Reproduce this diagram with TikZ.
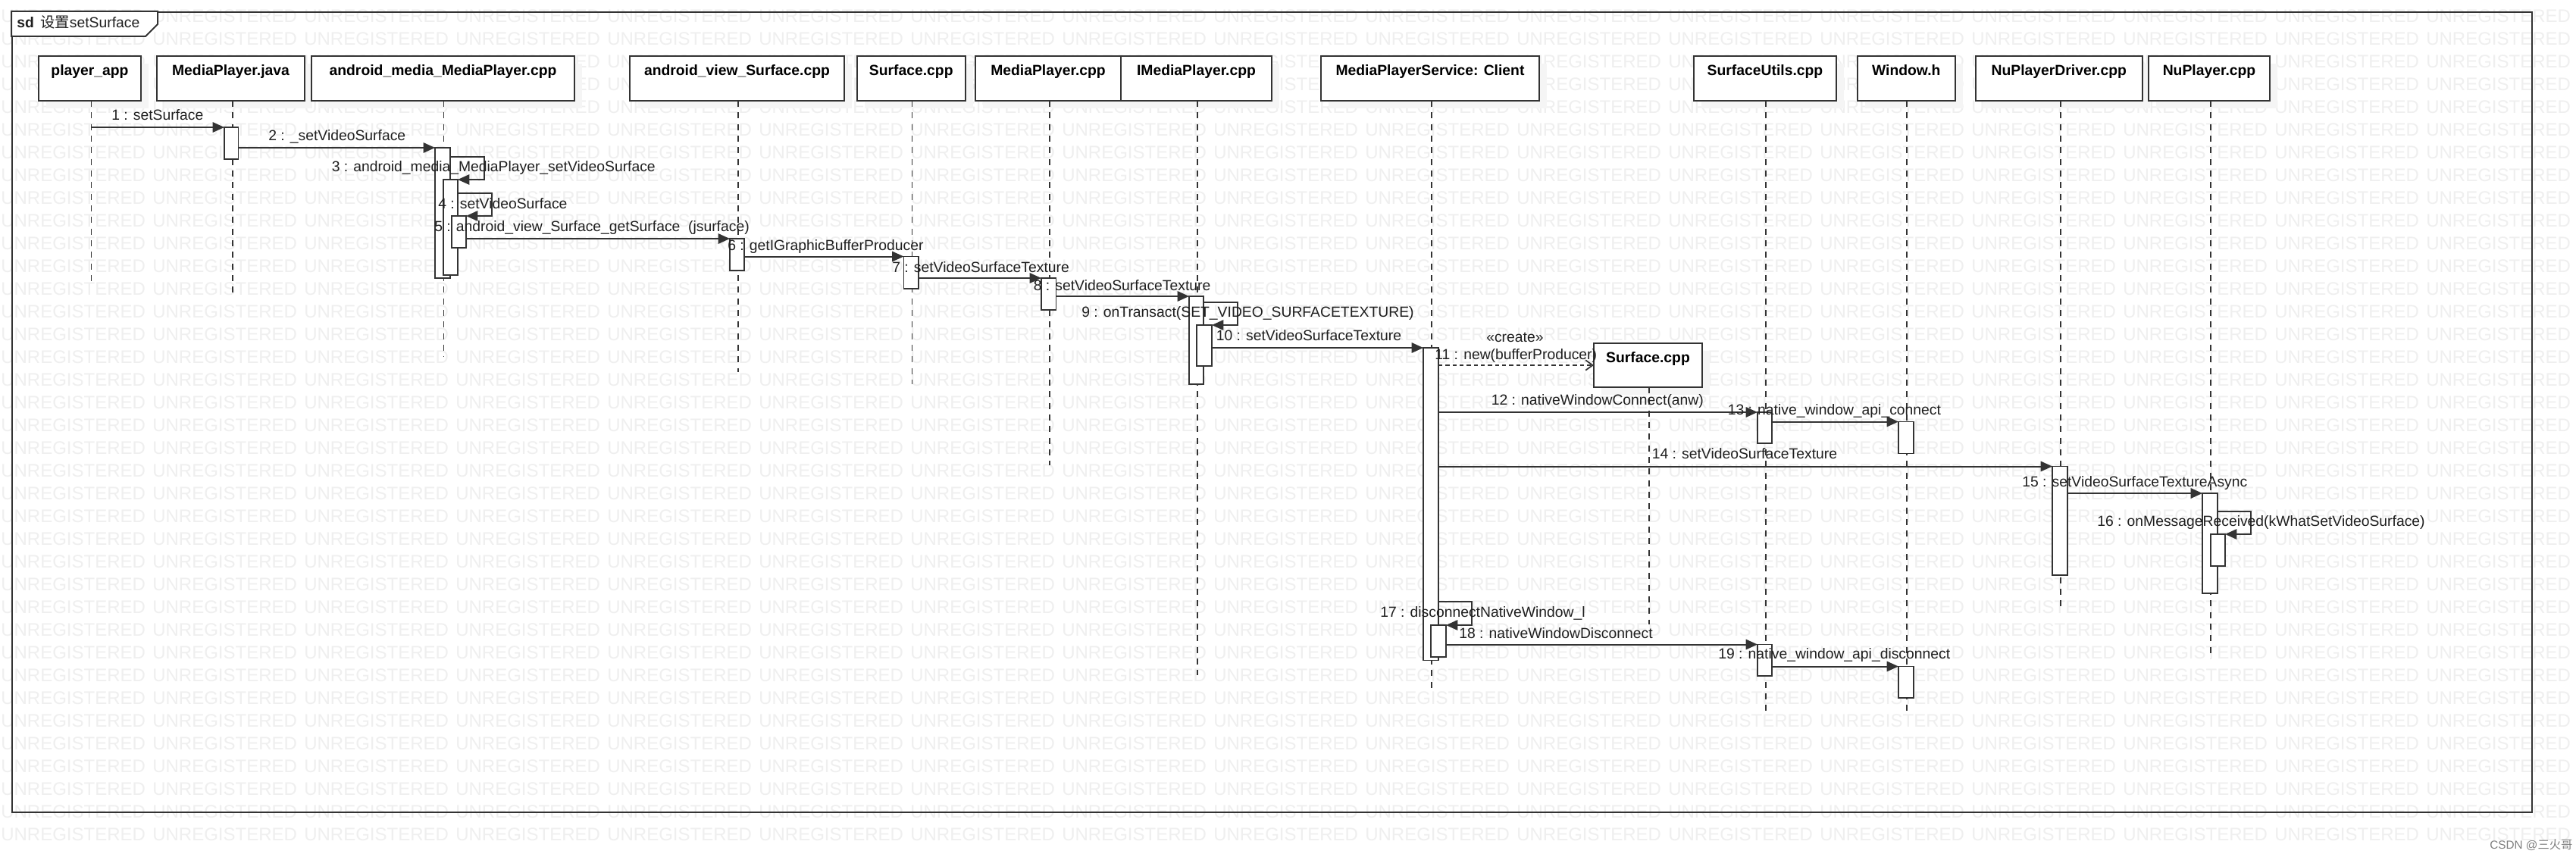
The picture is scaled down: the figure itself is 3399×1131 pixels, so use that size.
\documentclass[tikz,border=0pt]{standalone}
\usepackage{fontspec}
\setmainfont{Liberation Sans}
\newfontfamily\cjkfont{Noto Sans CJK SC}
\usetikzlibrary{arrows.meta,calc}
\definecolor{ink}{HTML}{333333}
\definecolor{wmark}{HTML}{EFEFEF}
\definecolor{shadowc}{HTML}{F5F5F5}
\tikzset{
  wm/.style={text=wmark,font=\fontsize{18}{18}\selectfont,anchor=west,inner sep=0pt},
  head/.style={draw=ink,fill=white,line width=1.5pt,inner sep=0pt,outer sep=0pt,font=\fontsize{14.5}{16}\selectfont\bfseries,text=black},
  actbar/.style={draw=ink,fill=white,line width=1.4pt,inner sep=0pt,outer sep=0pt,anchor=north west},
  lifeline/.style={draw=ink,line width=0.85pt,dash pattern=on 6pt off 5.5pt},
  msg/.style={draw=ink,line width=1.5pt,-{Triangle[length=11.5pt,width=10pt]}},
  newmsg/.style={draw=ink,line width=1.3pt,dash pattern=on 4pt off 3pt,-{Straight Barb[length=7pt,width=10pt]}},
  lab/.style={anchor=base west,yshift=-5.25pt,inner sep=0pt,font=\fontsize{14.5}{16}\selectfont,text=black!88},
  shadowbox/.style={fill=shadowc,draw=none}
}
% name, x1, x2, y1, y2, text
\newcommand{\headbox}[6]{%
  \fill[shadowbox] (#2+10,#4+10) rectangle (#3+10,#5+10);
  \node[head,anchor=north west,minimum width={(#3-#2)*0.75pt},minimum height={(#5-#4)*0.75pt}] (#1) at (#2,#4) {\raisebox{2.7pt}[0pt][0pt]{#6}};}
\newcommand{\actbox}[5]{%
  \node[actbar,minimum width={(#3-#2)*0.75pt},minimum height={(#5-#4)*0.75pt}] (#1) at (#2,#4) {};}
\begin{document}
\begin{tikzpicture}[x=0.75pt,y=-0.75pt]
\useasboundingbox (0,0) rectangle (3399,1131);
\fill[white] (0,0) rectangle (3399,1131);
% watermark
\foreach \r in {0,...,36}{\foreach \c in {0,...,16}{
  \node[wm] (wm-\r-\c) at ({1+200*\c},{21.5+30*\r}) {UNREGISTERED};
}}
% frame
\node[draw=ink,line width=1.6pt,anchor=north west,inner sep=0pt,minimum width={3325*0.75pt},minimum height={1056*0.75pt}] (frame) at (15,15) {};
\draw[draw=ink,fill=white,line width=1.5pt] (frame.north west) -- (208,15) -- (208,32) -- (192,48) -- (15,48) -- cycle;
\node[lab,font=\fontsize{14.5}{16}\selectfont\bfseries] (sdlabel) at (22,30) {sd};
\node[lab] (sdtitle) at (53,30) {{\cjkfont 设置}setSurface};
% headers
\headbox{pa}{51}{186}{74}{133}{player\_app}
\headbox{mpj}{207}{402}{74}{133}{MediaPlayer.java}
\headbox{amm}{411}{758}{74}{133}{android\_media\_MediaPlayer.cpp}
\headbox{avs}{831}{1114}{74}{133}{android\_view\_Surface.cpp}
\headbox{sf}{1130.5}{1274}{74}{133}{Surface.cpp}
\headbox{mpc}{1287}{1479}{74}{133}{MediaPlayer.cpp}
\headbox{imp}{1479}{1678}{74}{133}{IMediaPlayer.cpp}
\headbox{mps}{1743}{2031}{74}{133}{MediaPlayerService: Client}
\headbox{sfu}{2235}{2423}{74}{133}{SurfaceUtils.cpp}
\headbox{win}{2451}{2579.5}{74}{133}{Window.h}
\headbox{npd}{2606.5}{2827}{74}{133}{NuPlayerDriver.cpp}
\headbox{npl}{2835}{2995}{74}{133}{NuPlayer.cpp}
\headbox{sc}{2103}{2246}{453}{511}{Surface.cpp}
% lifeline ends
\coordinate (e1) at (120.5,373);
\coordinate (e2) at (307,389);
\coordinate (e3) at (585.5,471);
\coordinate (e4) at (974,491);
\coordinate (e5) at (1203.5,507);
\coordinate (e6) at (1385,614);
\coordinate (e7) at (1580,891);
\coordinate (e8) at (1889,913);
\coordinate (e9) at (2330,941);
\coordinate (e10) at (2516,941);
\coordinate (e11) at (2719,806);
\coordinate (e12) at (2917,869);
\coordinate (e13) at (2176,824);
\draw[lifeline] (e1 |- pa.south) -- (e1);
\draw[lifeline] (e2 |- mpj.south) -- (e2);
\draw[lifeline] (e3 |- amm.south) -- (e3);
\draw[lifeline] (e4 |- avs.south) -- (e4);
\draw[lifeline] (e5 |- sf.south) -- (e5);
\draw[lifeline] (e6 |- mpc.south) -- (e6);
\draw[lifeline] (e7 |- imp.south) -- (e7);
\draw[lifeline] (e8 |- mps.south) -- (e8);
\draw[lifeline] (e9 |- sfu.south) -- (e9);
\draw[lifeline] (e10 |- win.south) -- (e10);
\draw[lifeline] (e11 |- npd.south) -- (e11);
\draw[lifeline] (e12 |- npl.south) -- (e12);
\draw[lifeline] (e13 |- sc.south) -- (e13);
% activations
\actbox{a1}{296}{314.5}{168}{210}
\actbox{a2}{574}{594}{195}{367}
\actbox{a3}{585}{604}{237}{363}
\actbox{a4}{596}{615}{285}{327}
\actbox{a5}{963}{982}{315}{357}
\actbox{a6}{1192.5}{1212}{338.5}{381}
\actbox{a7}{1374}{1393.5}{367}{409}
\actbox{a8}{1569}{1588}{391}{507}
\actbox{a9}{1579}{1599}{429}{483}
\actbox{a10}{1878}{1898}{459}{871.5}
\actbox{a17}{1888}{1908}{825}{867}
\actbox{a12}{2319}{2338}{544}{585}
\actbox{a13}{2505}{2525}{556.5}{598.5}
\actbox{a14}{2708}{2728}{615.5}{759}
\actbox{a15}{2906}{2926}{651}{783}
\actbox{a16}{2917}{2936}{705}{747}
\actbox{a18}{2319}{2338}{850.5}{892}
\actbox{a19}{2505}{2525}{879.5}{921}
% self-call corners
\coordinate (s3) at (639,207);
\coordinate (s4) at (649,255);
\coordinate (s9) at (1633,398.5);
\coordinate (s16) at (2970,675);
\coordinate (s17) at (1942,794);
% messages
\draw[msg] (e1 |- a1.north) -- (a1.north west);
\draw[msg] (a1.east |- a2.north) -- (a2.north west);
\draw[msg] (a2.east |- s3) -- (s3) -- (s3 |- a3.north) -- (a3.north east);
\draw[msg] (a3.east |- s4) -- (s4) -- (s4 |- a4.north) -- (a4.north east);
\draw[msg] (a4.east |- a5.north) -- (a5.north west);
\draw[msg] (a5.east |- a6.north) -- (a6.north west);
\draw[msg] (a6.east |- a7.north) -- (a7.north west);
\draw[msg] (a7.east |- a8.north) -- (a8.north west);
\draw[msg] (a8.east |- s9) -- (s9) -- (s9 |- a9.north) -- (a9.north east);
\draw[msg] (a9.east |- a10.north) -- (a10.north west);
\draw[newmsg] (a10.east |- sc.west) -- (sc.west);
\draw[msg] (a10.east |- a12.north) -- (a12.north west);
\draw[msg] (a12.east |- a13.north) -- (a13.north west);
\draw[msg] (a10.east |- a14.north) -- (a14.north west);
\draw[msg] (a14.east |- a15.north) -- (a15.north west);
\draw[msg] (a15.east |- s16) -- (s16) -- (s16 |- a16.north) -- (a16.north east);
\draw[msg] (a10.east |- s17) -- (s17) -- (s17 |- a17.north) -- (a17.north east);
\draw[msg] (a17.east |- a18.north) -- (a18.north west);
\draw[msg] (a18.east |- a19.north) -- (a19.north west);
% labels
\node[lab] (l1) at (147,151) {1 : setSurface};
\node[lab] (l2) at (354,178.5) {2 : \_setVideoSurface};
\node[lab] (l3) at (437.5,219.5) {3 : android\_media\_MediaPlayer\_setVideoSurface};
\node[lab] (l4) at (578,268) {4 : setVideoSurface};
\node[lab] (l5) at (573,298) {5 : android\_view\_Surface\_getSurface\ \ (jsurface)};
\node[lab] (l6) at (960,323) {6 : getIGraphicBufferProducer};
\node[lab] (l7) at (1177,352) {7 : setVideoSurfaceTexture};
\node[lab] (l8) at (1363.5,376) {8 : setVideoSurfaceTexture};
\node[lab] (l9) at (1427,411) {9 : onTransact(SET\_VIDEO\_SURFACETEXTURE)};
\node[lab] (l10) at (1604.5,442) {10 : setVideoSurfaceTexture};
\node[lab] (lc) at (1961,444) {«create»};
\node[lab] (l11) at (1893,467) {11 : new(bufferProducer)};
\node[lab] (l12) at (1967.5,527) {12 : nativeWindowConnect(anw)};
\node[lab] (l13) at (2279.5,540) {13 : native\_window\_api\_connect};
\node[lab] (l14) at (2179.5,598.5) {14 : setVideoSurfaceTexture};
\node[lab] (l15) at (2668,635.5) {15 : setVideoSurfaceTextureAsync};
\node[lab] (l16) at (2767,687) {16 : onMessageReceived(kWhatSetVideoSurface)};
\node[lab] (l17) at (1821,807) {17 : disconnectNativeWindow\_l};
\node[lab] (l18) at (1925,835.5) {18 : nativeWindowDisconnect};
\node[lab] (l19) at (2267,862.5) {19 : native\_window\_api\_disconnect};
% signature
\node[anchor=west,inner sep=0pt,text=black!50,font=\fontsize{11.5}{12}\selectfont] (csdn) at (3285,1115) {CSDN @{\cjkfont 三火哥}};
\end{tikzpicture}
\end{document}
